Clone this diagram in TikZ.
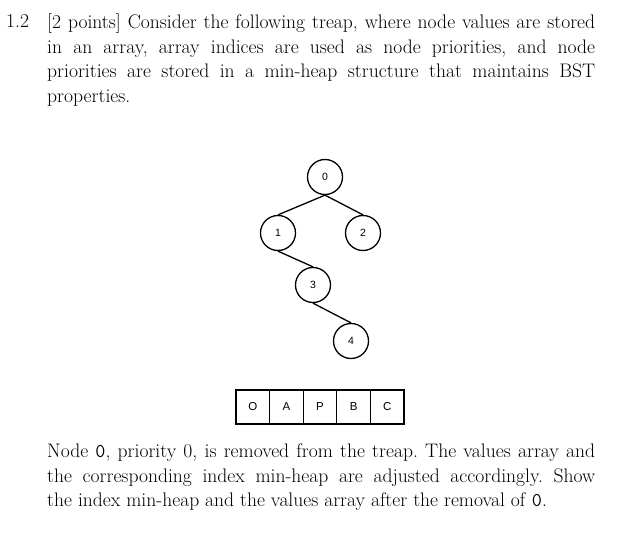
\documentclass[tikz,border=0pt]{standalone}
\usepackage{fontspec}
\newfontfamily\dsans{Liberation Sans}
\begin{document}
\frenchspacing
\begin{tikzpicture}[x=1pt,y=-1pt,
  tn/.style={circle,draw,line width=1.3pt,minimum size=35pt,inner sep=0pt,font=\dsans\fontsize{10.5}{11}\selectfont},
  cell/.style={draw,line width=1.3pt,minimum width=33.6pt,minimum height=34pt,inner sep=0pt,font=\dsans\fontsize{11.5}{12}\selectfont},
  edge/.style={line width=1.3pt},
  para/.style={anchor=north west,inner sep=0pt,text width=548pt,align=justify,font=\fontsize{19.6}{24.4}\selectfont}]
\useasboundingbox (0,0) rectangle (620,532);
\node[anchor=north west,inner sep=0pt,font=\fontsize{19.6}{24.4}\selectfont] (num) at (6,14) {1.2};
\node[para] (p1) at (47,14) {\frenchspacing[2 points] Consider the following treap, where node values are stored\linebreak in an array, array indices are used as node priorities, and node\linebreak priorities are stored in a min-heap structure that maintains BST\linebreak properties.};
\node[tn] (n0) at (325,177) {0};
\node[tn] (n1) at (278,233) {1};
\node[tn] (n2) at (363,233) {2};
\node[tn] (n3) at (313,285) {3};
\node[tn] (n4) at (351,341) {4};
\draw[edge] (n0.south) -- (n1.north);
\draw[edge] (n0.south) -- (n2.north);
\draw[edge] (n1.south) -- (n3.north);
\draw[edge] (n3.south) -- (n4.north);
\node[cell] (c0) at (252.8,407) {O};
\node[cell] (c1) at (286.4,407) {A};
\node[cell] (c2) at (320,407) {P};
\node[cell] (c3) at (353.6,407) {B};
\node[cell] (c4) at (387.2,407) {C};
\node[para] (p2) at (47,444) {\frenchspacing Node \texttt{0}, priority 0, is removed from the treap. The values array and\linebreak the corresponding index min-heap are adjusted accordingly. Show\linebreak the index min-heap and the values array after the removal of \texttt{0}.};
\end{tikzpicture}
\end{document}
